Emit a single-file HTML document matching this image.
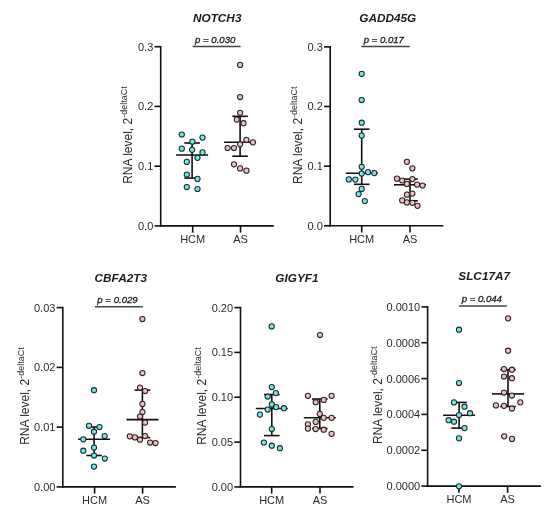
<!DOCTYPE html>
<html><head><meta charset="utf-8"><style>
html,body{margin:0;padding:0;background:#fff;}
body{width:550px;height:516px;overflow:hidden;}
svg{display:block;filter:blur(0.3px);}
text{font-family:"Liberation Sans",Arial,sans-serif;fill:#2b2b2b;}
.t{font-size:11.8px;font-weight:bold;font-style:italic;text-anchor:middle;fill:#1a1a1a;}
.p{font-size:9.6px;font-style:italic;text-anchor:middle;fill:#1a1a1a;stroke:#1a1a1a;stroke-width:0.3px;}
.tl{font-size:11px;text-anchor:end;}
.xl{font-size:11px;text-anchor:middle;}
.yl{font-size:12px;text-anchor:middle;}
.sup{font-size:9px;}
</style></head><body>
<svg width="550" height="516" viewBox="0 0 550 516">
<rect width="550" height="516" fill="#fff"/>
<text x="217.2" y="21.5" class="t">NOTCH3</text>
<text x="215.2" y="43.1" class="p">p = 0.030</text>
<line x1="192.6" x2="240.6" y1="46.4" y2="46.4" stroke="#444" stroke-width="1.5"/>
<line x1="160.7" x2="160.7" y1="45.9" y2="226.7" stroke="#111" stroke-width="1.6"/>
<line x1="154.5" x2="160.7" y1="225.9" y2="225.9" stroke="#111" stroke-width="1.6"/>
<text x="153.3" y="229.8" class="tl">0.0</text>
<line x1="154.5" x2="160.7" y1="166.2" y2="166.2" stroke="#111" stroke-width="1.6"/>
<text x="153.3" y="170.1" class="tl">0.1</text>
<line x1="154.5" x2="160.7" y1="106.4" y2="106.4" stroke="#111" stroke-width="1.6"/>
<text x="153.3" y="110.3" class="tl">0.2</text>
<line x1="154.5" x2="160.7" y1="46.7" y2="46.7" stroke="#111" stroke-width="1.6"/>
<text x="153.3" y="50.6" class="tl">0.3</text>
<line x1="159.9" x2="273.8" y1="225.9" y2="225.9" stroke="#111" stroke-width="1.6"/>
<line x1="192.7" x2="192.7" y1="225.9" y2="232.6" stroke="#111" stroke-width="1.6"/>
<text x="192.7" y="242.9" class="xl">HCM</text>
<line x1="240.5" x2="240.5" y1="225.9" y2="232.6" stroke="#111" stroke-width="1.6"/>
<text x="240.5" y="242.9" class="xl">AS</text>
<text transform="translate(132,135.1) rotate(-90)" class="yl">RNA level, 2<tspan dy="-5" class="sup">-deltaCt</tspan></text>
<line x1="192.1" x2="192.1" y1="143" y2="178.1" stroke="#111" stroke-width="1.6"/>
<line x1="184.29999999999998" x2="199.9" y1="143" y2="143" stroke="#111" stroke-width="1.6"/>
<line x1="184.29999999999998" x2="199.9" y1="178.1" y2="178.1" stroke="#111" stroke-width="1.6"/>
<line x1="176.1" x2="208.1" y1="155" y2="155" stroke="#111" stroke-width="1.6"/>
<line x1="240.1" x2="240.1" y1="116.3" y2="156.2" stroke="#111" stroke-width="1.6"/>
<line x1="232.29999999999998" x2="247.9" y1="116.3" y2="116.3" stroke="#111" stroke-width="1.6"/>
<line x1="232.29999999999998" x2="247.9" y1="156.2" y2="156.2" stroke="#111" stroke-width="1.6"/>
<line x1="224.1" x2="256.1" y1="142.3" y2="142.3" stroke="#111" stroke-width="1.6"/>
<circle cx="181.8" cy="134.5" r="2.6" fill="#66eef0" stroke="#262626" stroke-width="1.05"/>
<circle cx="202.5" cy="137.6" r="2.6" fill="#66eef0" stroke="#262626" stroke-width="1.05"/>
<circle cx="192.4" cy="141.7" r="2.6" fill="#66eef0" stroke="#262626" stroke-width="1.05"/>
<circle cx="181.8" cy="148.7" r="2.6" fill="#66eef0" stroke="#262626" stroke-width="1.05"/>
<circle cx="192.1" cy="149.8" r="2.6" fill="#66eef0" stroke="#262626" stroke-width="1.05"/>
<circle cx="202.5" cy="152.4" r="2.6" fill="#66eef0" stroke="#262626" stroke-width="1.05"/>
<circle cx="197.5" cy="157.8" r="2.6" fill="#66eef0" stroke="#262626" stroke-width="1.05"/>
<circle cx="186.8" cy="161.9" r="2.6" fill="#66eef0" stroke="#262626" stroke-width="1.05"/>
<circle cx="186.8" cy="174.5" r="2.6" fill="#66eef0" stroke="#262626" stroke-width="1.05"/>
<circle cx="197.5" cy="178.9" r="2.6" fill="#66eef0" stroke="#262626" stroke-width="1.05"/>
<circle cx="186.8" cy="187.1" r="2.6" fill="#66eef0" stroke="#262626" stroke-width="1.05"/>
<circle cx="197.5" cy="189" r="2.6" fill="#66eef0" stroke="#262626" stroke-width="1.05"/>
<circle cx="240.1" cy="64.9" r="2.6" fill="#f7bdc0" stroke="#262626" stroke-width="1.05"/>
<circle cx="240.1" cy="97" r="2.6" fill="#f7bdc0" stroke="#262626" stroke-width="1.05"/>
<circle cx="240.1" cy="112.8" r="2.6" fill="#f7bdc0" stroke="#262626" stroke-width="1.05"/>
<circle cx="236.8" cy="119.6" r="2.6" fill="#f7bdc0" stroke="#262626" stroke-width="1.05"/>
<circle cx="243.5" cy="123.2" r="2.6" fill="#f7bdc0" stroke="#262626" stroke-width="1.05"/>
<circle cx="246.4" cy="139.8" r="2.6" fill="#f7bdc0" stroke="#262626" stroke-width="1.05"/>
<circle cx="252.9" cy="142.3" r="2.6" fill="#f7bdc0" stroke="#262626" stroke-width="1.05"/>
<circle cx="240.1" cy="144.3" r="2.6" fill="#f7bdc0" stroke="#262626" stroke-width="1.05"/>
<circle cx="227.6" cy="148" r="2.6" fill="#f7bdc0" stroke="#262626" stroke-width="1.05"/>
<circle cx="234" cy="148" r="2.6" fill="#f7bdc0" stroke="#262626" stroke-width="1.05"/>
<circle cx="234" cy="164.3" r="2.6" fill="#f7bdc0" stroke="#262626" stroke-width="1.05"/>
<circle cx="240.1" cy="168.4" r="2.6" fill="#f7bdc0" stroke="#262626" stroke-width="1.05"/>
<circle cx="246.4" cy="170.7" r="2.6" fill="#f7bdc0" stroke="#262626" stroke-width="1.05"/>
<text x="387.8" y="21.5" class="t">GADD45G</text>
<text x="383.8" y="42.9" class="p">p = 0.017</text>
<line x1="361.4" x2="409.7" y1="46.5" y2="46.5" stroke="#444" stroke-width="1.5"/>
<line x1="330.2" x2="330.2" y1="46.1" y2="226.6" stroke="#111" stroke-width="1.6"/>
<line x1="324.0" x2="330.2" y1="225.8" y2="225.8" stroke="#111" stroke-width="1.6"/>
<text x="322.8" y="229.7" class="tl">0.0</text>
<line x1="324.0" x2="330.2" y1="166.2" y2="166.2" stroke="#111" stroke-width="1.6"/>
<text x="322.8" y="170.1" class="tl">0.1</text>
<line x1="324.0" x2="330.2" y1="106.5" y2="106.5" stroke="#111" stroke-width="1.6"/>
<text x="322.8" y="110.4" class="tl">0.2</text>
<line x1="324.0" x2="330.2" y1="46.9" y2="46.9" stroke="#111" stroke-width="1.6"/>
<text x="322.8" y="50.8" class="tl">0.3</text>
<line x1="329.4" x2="443.3" y1="225.8" y2="225.8" stroke="#111" stroke-width="1.6"/>
<line x1="361.7" x2="361.7" y1="225.8" y2="232.5" stroke="#111" stroke-width="1.6"/>
<text x="361.7" y="242.8" class="xl">HCM</text>
<line x1="410" x2="410" y1="225.8" y2="232.5" stroke="#111" stroke-width="1.6"/>
<text x="410" y="242.8" class="xl">AS</text>
<text transform="translate(301.5,135.2) rotate(-90)" class="yl">RNA level, 2<tspan dy="-5" class="sup">-deltaCt</tspan></text>
<line x1="361.7" x2="361.7" y1="129.2" y2="184.3" stroke="#111" stroke-width="1.6"/>
<line x1="353.9" x2="369.5" y1="129.2" y2="129.2" stroke="#111" stroke-width="1.6"/>
<line x1="353.9" x2="369.5" y1="184.3" y2="184.3" stroke="#111" stroke-width="1.6"/>
<line x1="345.7" x2="377.7" y1="173.3" y2="173.3" stroke="#111" stroke-width="1.6"/>
<line x1="410" x2="410" y1="179.1" y2="200.8" stroke="#111" stroke-width="1.6"/>
<line x1="402.2" x2="417.8" y1="179.1" y2="179.1" stroke="#111" stroke-width="1.6"/>
<line x1="402.2" x2="417.8" y1="200.8" y2="200.8" stroke="#111" stroke-width="1.6"/>
<line x1="394" x2="426" y1="184.8" y2="184.8" stroke="#111" stroke-width="1.6"/>
<circle cx="361.7" cy="73.8" r="2.6" fill="#66eef0" stroke="#262626" stroke-width="1.05"/>
<circle cx="361.7" cy="100" r="2.6" fill="#66eef0" stroke="#262626" stroke-width="1.05"/>
<circle cx="361.7" cy="122.7" r="2.6" fill="#66eef0" stroke="#262626" stroke-width="1.05"/>
<circle cx="361.7" cy="135.6" r="2.6" fill="#66eef0" stroke="#262626" stroke-width="1.05"/>
<circle cx="361.7" cy="166.8" r="2.6" fill="#66eef0" stroke="#262626" stroke-width="1.05"/>
<circle cx="361.7" cy="173.6" r="2.6" fill="#66eef0" stroke="#262626" stroke-width="1.05"/>
<circle cx="368" cy="172.2" r="2.6" fill="#66eef0" stroke="#262626" stroke-width="1.05"/>
<circle cx="374.3" cy="173.1" r="2.6" fill="#66eef0" stroke="#262626" stroke-width="1.05"/>
<circle cx="348.8" cy="179.4" r="2.6" fill="#66eef0" stroke="#262626" stroke-width="1.05"/>
<circle cx="355.3" cy="179.6" r="2.6" fill="#66eef0" stroke="#262626" stroke-width="1.05"/>
<circle cx="361.7" cy="188.9" r="2.6" fill="#66eef0" stroke="#262626" stroke-width="1.05"/>
<circle cx="358.6" cy="194.1" r="2.6" fill="#66eef0" stroke="#262626" stroke-width="1.05"/>
<circle cx="364.8" cy="201.1" r="2.6" fill="#66eef0" stroke="#262626" stroke-width="1.05"/>
<circle cx="406.9" cy="161.8" r="2.6" fill="#f7bdc0" stroke="#262626" stroke-width="1.05"/>
<circle cx="412.4" cy="168.3" r="2.6" fill="#f7bdc0" stroke="#262626" stroke-width="1.05"/>
<circle cx="397" cy="178.7" r="2.6" fill="#f7bdc0" stroke="#262626" stroke-width="1.05"/>
<circle cx="402.2" cy="180.5" r="2.6" fill="#f7bdc0" stroke="#262626" stroke-width="1.05"/>
<circle cx="412.4" cy="179.1" r="2.6" fill="#f7bdc0" stroke="#262626" stroke-width="1.05"/>
<circle cx="406.9" cy="183.9" r="2.6" fill="#f7bdc0" stroke="#262626" stroke-width="1.05"/>
<circle cx="417.1" cy="184.6" r="2.6" fill="#f7bdc0" stroke="#262626" stroke-width="1.05"/>
<circle cx="422.5" cy="185.5" r="2.6" fill="#f7bdc0" stroke="#262626" stroke-width="1.05"/>
<circle cx="406.9" cy="194.7" r="2.6" fill="#f7bdc0" stroke="#262626" stroke-width="1.05"/>
<circle cx="412.4" cy="193.6" r="2.6" fill="#f7bdc0" stroke="#262626" stroke-width="1.05"/>
<circle cx="402.2" cy="200.4" r="2.6" fill="#f7bdc0" stroke="#262626" stroke-width="1.05"/>
<circle cx="406.9" cy="202.4" r="2.6" fill="#f7bdc0" stroke="#262626" stroke-width="1.05"/>
<circle cx="412.4" cy="202.8" r="2.6" fill="#f7bdc0" stroke="#262626" stroke-width="1.05"/>
<circle cx="417.5" cy="205.8" r="2.6" fill="#f7bdc0" stroke="#262626" stroke-width="1.05"/>
<text x="120.8" y="281.8" class="t">CBFA2T3</text>
<text x="117.5" y="302.6" class="p">p = 0.029</text>
<line x1="94.9" x2="142.9" y1="306.7" y2="306.7" stroke="#444" stroke-width="1.5"/>
<line x1="62.8" x2="62.8" y1="306.8" y2="487.7" stroke="#111" stroke-width="1.6"/>
<line x1="56.6" x2="62.8" y1="486.9" y2="486.9" stroke="#111" stroke-width="1.6"/>
<text x="55.4" y="490.8" class="tl">0.00</text>
<line x1="56.6" x2="62.8" y1="427.1" y2="427.1" stroke="#111" stroke-width="1.6"/>
<text x="55.4" y="431.0" class="tl">0.01</text>
<line x1="56.6" x2="62.8" y1="367.4" y2="367.4" stroke="#111" stroke-width="1.6"/>
<text x="55.4" y="371.3" class="tl">0.02</text>
<line x1="56.6" x2="62.8" y1="307.6" y2="307.6" stroke="#111" stroke-width="1.6"/>
<text x="55.4" y="311.5" class="tl">0.03</text>
<line x1="62.0" x2="175.9" y1="486.9" y2="486.9" stroke="#111" stroke-width="1.6"/>
<line x1="94.6" x2="94.6" y1="486.9" y2="493.6" stroke="#111" stroke-width="1.6"/>
<text x="94.6" y="503.9" class="xl">HCM</text>
<line x1="142.6" x2="142.6" y1="486.9" y2="493.6" stroke="#111" stroke-width="1.6"/>
<text x="142.6" y="503.9" class="xl">AS</text>
<text transform="translate(28.5,396.1) rotate(-90)" class="yl">RNA level, 2<tspan dy="-5" class="sup">-deltaCt</tspan></text>
<line x1="94.1" x2="94.1" y1="427" y2="455.5" stroke="#111" stroke-width="1.6"/>
<line x1="86.3" x2="101.89999999999999" y1="427" y2="427" stroke="#111" stroke-width="1.6"/>
<line x1="86.3" x2="101.89999999999999" y1="455.5" y2="455.5" stroke="#111" stroke-width="1.6"/>
<line x1="78.1" x2="110.1" y1="439.3" y2="439.3" stroke="#111" stroke-width="1.6"/>
<line x1="142.4" x2="142.4" y1="390.1" y2="437.6" stroke="#111" stroke-width="1.6"/>
<line x1="134.6" x2="150.20000000000002" y1="390.1" y2="390.1" stroke="#111" stroke-width="1.6"/>
<line x1="134.6" x2="150.20000000000002" y1="437.6" y2="437.6" stroke="#111" stroke-width="1.6"/>
<line x1="126.4" x2="158.4" y1="419.6" y2="419.6" stroke="#111" stroke-width="1.6"/>
<circle cx="94" cy="390.2" r="2.6" fill="#66eef0" stroke="#262626" stroke-width="1.05"/>
<circle cx="89" cy="425.8" r="2.6" fill="#66eef0" stroke="#262626" stroke-width="1.05"/>
<circle cx="99.5" cy="427" r="2.6" fill="#66eef0" stroke="#262626" stroke-width="1.05"/>
<circle cx="94" cy="431.7" r="2.6" fill="#66eef0" stroke="#262626" stroke-width="1.05"/>
<circle cx="104.6" cy="436" r="2.6" fill="#66eef0" stroke="#262626" stroke-width="1.05"/>
<circle cx="83.3" cy="439.3" r="2.6" fill="#66eef0" stroke="#262626" stroke-width="1.05"/>
<circle cx="94" cy="447.6" r="2.6" fill="#66eef0" stroke="#262626" stroke-width="1.05"/>
<circle cx="83.3" cy="450.7" r="2.6" fill="#66eef0" stroke="#262626" stroke-width="1.05"/>
<circle cx="94" cy="455.5" r="2.6" fill="#66eef0" stroke="#262626" stroke-width="1.05"/>
<circle cx="104.8" cy="458.5" r="2.6" fill="#66eef0" stroke="#262626" stroke-width="1.05"/>
<circle cx="94" cy="466.6" r="2.6" fill="#66eef0" stroke="#262626" stroke-width="1.05"/>
<circle cx="142.4" cy="319" r="2.6" fill="#f7bdc0" stroke="#262626" stroke-width="1.05"/>
<circle cx="142.4" cy="373" r="2.6" fill="#f7bdc0" stroke="#262626" stroke-width="1.05"/>
<circle cx="140" cy="387.6" r="2.6" fill="#f7bdc0" stroke="#262626" stroke-width="1.05"/>
<circle cx="145.1" cy="391" r="2.6" fill="#f7bdc0" stroke="#262626" stroke-width="1.05"/>
<circle cx="142.4" cy="403.9" r="2.6" fill="#f7bdc0" stroke="#262626" stroke-width="1.05"/>
<circle cx="142.4" cy="412" r="2.6" fill="#f7bdc0" stroke="#262626" stroke-width="1.05"/>
<circle cx="140" cy="416.5" r="2.6" fill="#f7bdc0" stroke="#262626" stroke-width="1.05"/>
<circle cx="145.1" cy="422.6" r="2.6" fill="#f7bdc0" stroke="#262626" stroke-width="1.05"/>
<circle cx="129.8" cy="436.3" r="2.6" fill="#f7bdc0" stroke="#262626" stroke-width="1.05"/>
<circle cx="134.9" cy="437.4" r="2.6" fill="#f7bdc0" stroke="#262626" stroke-width="1.05"/>
<circle cx="145.1" cy="436" r="2.6" fill="#f7bdc0" stroke="#262626" stroke-width="1.05"/>
<circle cx="140" cy="439.7" r="2.6" fill="#f7bdc0" stroke="#262626" stroke-width="1.05"/>
<circle cx="150.1" cy="442.5" r="2.6" fill="#f7bdc0" stroke="#262626" stroke-width="1.05"/>
<circle cx="155.5" cy="443" r="2.6" fill="#f7bdc0" stroke="#262626" stroke-width="1.05"/>
<text x="297" y="282" class="t">GIGYF1</text>
<line x1="240.5" x2="240.5" y1="306.8" y2="487.7" stroke="#111" stroke-width="1.6"/>
<line x1="234.3" x2="240.5" y1="486.9" y2="486.9" stroke="#111" stroke-width="1.6"/>
<text x="233.1" y="490.8" class="tl">0.00</text>
<line x1="234.3" x2="240.5" y1="442.1" y2="442.1" stroke="#111" stroke-width="1.6"/>
<text x="233.1" y="446.0" class="tl">0.05</text>
<line x1="234.3" x2="240.5" y1="397.2" y2="397.2" stroke="#111" stroke-width="1.6"/>
<text x="233.1" y="401.1" class="tl">0.10</text>
<line x1="234.3" x2="240.5" y1="352.4" y2="352.4" stroke="#111" stroke-width="1.6"/>
<text x="233.1" y="356.3" class="tl">0.15</text>
<line x1="234.3" x2="240.5" y1="307.6" y2="307.6" stroke="#111" stroke-width="1.6"/>
<text x="233.1" y="311.5" class="tl">0.20</text>
<line x1="239.7" x2="353.6" y1="486.9" y2="486.9" stroke="#111" stroke-width="1.6"/>
<line x1="271.7" x2="271.7" y1="486.9" y2="493.6" stroke="#111" stroke-width="1.6"/>
<text x="271.7" y="503.9" class="xl">HCM</text>
<line x1="320" x2="320" y1="486.9" y2="493.6" stroke="#111" stroke-width="1.6"/>
<text x="320" y="503.9" class="xl">AS</text>
<text transform="translate(206.1,396.1) rotate(-90)" class="yl">RNA level, 2<tspan dy="-5" class="sup">-deltaCt</tspan></text>
<line x1="271.8" x2="271.8" y1="394.5" y2="435.6" stroke="#111" stroke-width="1.6"/>
<line x1="264.0" x2="279.6" y1="394.5" y2="394.5" stroke="#111" stroke-width="1.6"/>
<line x1="264.0" x2="279.6" y1="435.6" y2="435.6" stroke="#111" stroke-width="1.6"/>
<line x1="255.8" x2="287.8" y1="408.5" y2="408.5" stroke="#111" stroke-width="1.6"/>
<line x1="319.8" x2="319.8" y1="399" y2="428.6" stroke="#111" stroke-width="1.6"/>
<line x1="312.0" x2="327.6" y1="399" y2="399" stroke="#111" stroke-width="1.6"/>
<line x1="312.0" x2="327.6" y1="428.6" y2="428.6" stroke="#111" stroke-width="1.6"/>
<line x1="303.8" x2="335.8" y1="417.8" y2="417.8" stroke="#111" stroke-width="1.6"/>
<circle cx="271.7" cy="326.4" r="2.6" fill="#66eef0" stroke="#262626" stroke-width="1.05"/>
<circle cx="271.8" cy="387" r="2.6" fill="#66eef0" stroke="#262626" stroke-width="1.05"/>
<circle cx="275.9" cy="393.1" r="2.6" fill="#66eef0" stroke="#262626" stroke-width="1.05"/>
<circle cx="267.7" cy="396.5" r="2.6" fill="#66eef0" stroke="#262626" stroke-width="1.05"/>
<circle cx="271.8" cy="404.4" r="2.6" fill="#66eef0" stroke="#262626" stroke-width="1.05"/>
<circle cx="276.1" cy="407.1" r="2.6" fill="#66eef0" stroke="#262626" stroke-width="1.05"/>
<circle cx="267.7" cy="409.5" r="2.6" fill="#66eef0" stroke="#262626" stroke-width="1.05"/>
<circle cx="283.9" cy="408.2" r="2.6" fill="#66eef0" stroke="#262626" stroke-width="1.05"/>
<circle cx="259.9" cy="414.6" r="2.6" fill="#66eef0" stroke="#262626" stroke-width="1.05"/>
<circle cx="271.8" cy="429" r="2.6" fill="#66eef0" stroke="#262626" stroke-width="1.05"/>
<circle cx="263.9" cy="442.6" r="2.6" fill="#66eef0" stroke="#262626" stroke-width="1.05"/>
<circle cx="271.8" cy="445.7" r="2.6" fill="#66eef0" stroke="#262626" stroke-width="1.05"/>
<circle cx="279.9" cy="448.2" r="2.6" fill="#66eef0" stroke="#262626" stroke-width="1.05"/>
<circle cx="320" cy="335" r="2.6" fill="#f7bdc0" stroke="#262626" stroke-width="1.05"/>
<circle cx="307.9" cy="395.8" r="2.6" fill="#f7bdc0" stroke="#262626" stroke-width="1.05"/>
<circle cx="331.6" cy="395.8" r="2.6" fill="#f7bdc0" stroke="#262626" stroke-width="1.05"/>
<circle cx="315.7" cy="402.2" r="2.6" fill="#f7bdc0" stroke="#262626" stroke-width="1.05"/>
<circle cx="323.7" cy="399.9" r="2.6" fill="#f7bdc0" stroke="#262626" stroke-width="1.05"/>
<circle cx="319.8" cy="413.9" r="2.6" fill="#f7bdc0" stroke="#262626" stroke-width="1.05"/>
<circle cx="323.7" cy="417.8" r="2.6" fill="#f7bdc0" stroke="#262626" stroke-width="1.05"/>
<circle cx="331.6" cy="417.8" r="2.6" fill="#f7bdc0" stroke="#262626" stroke-width="1.05"/>
<circle cx="315.7" cy="421.9" r="2.6" fill="#f7bdc0" stroke="#262626" stroke-width="1.05"/>
<circle cx="307.9" cy="424.3" r="2.6" fill="#f7bdc0" stroke="#262626" stroke-width="1.05"/>
<circle cx="307.9" cy="428.6" r="2.6" fill="#f7bdc0" stroke="#262626" stroke-width="1.05"/>
<circle cx="315.7" cy="429" r="2.6" fill="#f7bdc0" stroke="#262626" stroke-width="1.05"/>
<circle cx="323.7" cy="429.7" r="2.6" fill="#f7bdc0" stroke="#262626" stroke-width="1.05"/>
<circle cx="331.6" cy="433.8" r="2.6" fill="#f7bdc0" stroke="#262626" stroke-width="1.05"/>
<text x="484.2" y="279.9" class="t">SLC17A7</text>
<text x="481.8" y="302.4" class="p">p = 0.044</text>
<line x1="458.9" x2="506.9" y1="306.1" y2="306.1" stroke="#444" stroke-width="1.5"/>
<line x1="427.6" x2="427.6" y1="306.1" y2="486.9" stroke="#111" stroke-width="1.6"/>
<line x1="421.4" x2="427.6" y1="486.1" y2="486.1" stroke="#111" stroke-width="1.6"/>
<text x="420.2" y="490.0" class="tl">0.0000</text>
<line x1="421.4" x2="427.6" y1="450.3" y2="450.3" stroke="#111" stroke-width="1.6"/>
<text x="420.2" y="454.2" class="tl">0.0002</text>
<line x1="421.4" x2="427.6" y1="414.4" y2="414.4" stroke="#111" stroke-width="1.6"/>
<text x="420.2" y="418.3" class="tl">0.0004</text>
<line x1="421.4" x2="427.6" y1="378.6" y2="378.6" stroke="#111" stroke-width="1.6"/>
<text x="420.2" y="382.5" class="tl">0.0006</text>
<line x1="421.4" x2="427.6" y1="342.7" y2="342.7" stroke="#111" stroke-width="1.6"/>
<text x="420.2" y="346.6" class="tl">0.0008</text>
<line x1="421.4" x2="427.6" y1="306.9" y2="306.9" stroke="#111" stroke-width="1.6"/>
<text x="420.2" y="310.8" class="tl">0.0010</text>
<line x1="426.8" x2="540.9" y1="486.1" y2="486.1" stroke="#111" stroke-width="1.6"/>
<line x1="459" x2="459" y1="486.1" y2="492.8" stroke="#111" stroke-width="1.6"/>
<text x="459" y="503.1" class="xl">HCM</text>
<line x1="507.6" x2="507.6" y1="486.1" y2="492.8" stroke="#111" stroke-width="1.6"/>
<text x="507.6" y="503.1" class="xl">AS</text>
<text transform="translate(381.7,395.3) rotate(-90)" class="yl">RNA level, 2<tspan dy="-5" class="sup">-deltaCt</tspan></text>
<line x1="459.1" x2="459.1" y1="402.4" y2="428.1" stroke="#111" stroke-width="1.6"/>
<line x1="451.3" x2="466.90000000000003" y1="402.4" y2="402.4" stroke="#111" stroke-width="1.6"/>
<line x1="451.3" x2="466.90000000000003" y1="428.1" y2="428.1" stroke="#111" stroke-width="1.6"/>
<line x1="443.1" x2="475.1" y1="415.2" y2="415.2" stroke="#111" stroke-width="1.6"/>
<line x1="508" x2="508" y1="369.6" y2="406.5" stroke="#111" stroke-width="1.6"/>
<line x1="500.2" x2="515.8" y1="369.6" y2="369.6" stroke="#111" stroke-width="1.6"/>
<line x1="500.2" x2="515.8" y1="406.5" y2="406.5" stroke="#111" stroke-width="1.6"/>
<line x1="492" x2="524" y1="393.9" y2="393.9" stroke="#111" stroke-width="1.6"/>
<circle cx="459" cy="329.7" r="2.6" fill="#66eef0" stroke="#262626" stroke-width="1.05"/>
<circle cx="459" cy="383" r="2.6" fill="#66eef0" stroke="#262626" stroke-width="1.05"/>
<circle cx="454" cy="402.4" r="2.6" fill="#66eef0" stroke="#262626" stroke-width="1.05"/>
<circle cx="464.5" cy="406.7" r="2.6" fill="#66eef0" stroke="#262626" stroke-width="1.05"/>
<circle cx="470" cy="413.2" r="2.6" fill="#66eef0" stroke="#262626" stroke-width="1.05"/>
<circle cx="459" cy="415" r="2.6" fill="#66eef0" stroke="#262626" stroke-width="1.05"/>
<circle cx="448.6" cy="420.2" r="2.6" fill="#66eef0" stroke="#262626" stroke-width="1.05"/>
<circle cx="454" cy="421.7" r="2.6" fill="#66eef0" stroke="#262626" stroke-width="1.05"/>
<circle cx="464.5" cy="428.1" r="2.6" fill="#66eef0" stroke="#262626" stroke-width="1.05"/>
<circle cx="459" cy="438.3" r="2.6" fill="#66eef0" stroke="#262626" stroke-width="1.05"/>
<circle cx="459" cy="486.3" r="2.6" fill="#66eef0" stroke="#262626" stroke-width="1.05"/>
<circle cx="508.1" cy="318.3" r="2.6" fill="#f7bdc0" stroke="#262626" stroke-width="1.05"/>
<circle cx="508.1" cy="350.7" r="2.6" fill="#f7bdc0" stroke="#262626" stroke-width="1.05"/>
<circle cx="504" cy="369" r="2.6" fill="#f7bdc0" stroke="#262626" stroke-width="1.05"/>
<circle cx="511.9" cy="369.7" r="2.6" fill="#f7bdc0" stroke="#262626" stroke-width="1.05"/>
<circle cx="504" cy="376.5" r="2.6" fill="#f7bdc0" stroke="#262626" stroke-width="1.05"/>
<circle cx="511.9" cy="378.2" r="2.6" fill="#f7bdc0" stroke="#262626" stroke-width="1.05"/>
<circle cx="504" cy="392.5" r="2.6" fill="#f7bdc0" stroke="#262626" stroke-width="1.05"/>
<circle cx="511.9" cy="395.5" r="2.6" fill="#f7bdc0" stroke="#262626" stroke-width="1.05"/>
<circle cx="520.3" cy="402.3" r="2.6" fill="#f7bdc0" stroke="#262626" stroke-width="1.05"/>
<circle cx="495.9" cy="405.4" r="2.6" fill="#f7bdc0" stroke="#262626" stroke-width="1.05"/>
<circle cx="504" cy="405.8" r="2.6" fill="#f7bdc0" stroke="#262626" stroke-width="1.05"/>
<circle cx="511.9" cy="408.5" r="2.6" fill="#f7bdc0" stroke="#262626" stroke-width="1.05"/>
<circle cx="504.2" cy="436.3" r="2.6" fill="#f7bdc0" stroke="#262626" stroke-width="1.05"/>
<circle cx="512" cy="438.9" r="2.6" fill="#f7bdc0" stroke="#262626" stroke-width="1.05"/>
</svg>
</body></html>
